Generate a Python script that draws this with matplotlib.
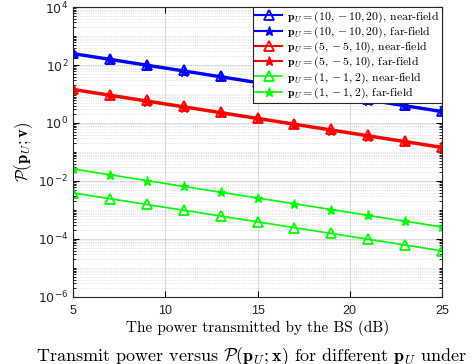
import numpy as np
import matplotlib
matplotlib.use("Agg")
import matplotlib.pyplot as plt
from matplotlib.ticker import LogLocator, FixedLocator, NullFormatter, FuncFormatter

plt.rcParams['mathtext.fontset'] = 'cm'

# Data
power_db = [5, 7, 9, 11, 13, 15, 17, 19, 21, 23, 25]
blue_near = [260, 165, 104, 65.6, 41.4, 26.1, 16.5, 10.4, 6.56, 4.14, 2.61]
blue_far = [235, 148, 93.8, 59.2, 37.3, 23.5, 14.8, 9.38, 5.92, 3.73, 2.35]
red_near = [15.2, 9.6, 6.05, 3.82, 2.41, 1.52, 0.96, 0.605, 0.382, 0.241, 0.152]
red_far = [13.6, 8.58, 5.41, 3.41, 2.15, 1.36, 0.858, 0.541, 0.341, 0.215, 0.136]
green_near = [3.9e-3, 2.46e-3, 1.55e-3, 9.8e-4, 6.2e-4, 3.9e-4, 2.46e-4, 1.55e-4, 9.8e-5, 6.2e-5, 3.9e-5]
green_far = [2.6e-2, 1.64e-2, 1.04e-2, 6.5e-3, 4.1e-3, 2.6e-3, 1.64e-3, 1.04e-3, 6.5e-4, 4.1e-4, 2.6e-4]

labels = [r'$\mathbf{p}_U=(10,-10,20)$, near-field',
          r'$\mathbf{p}_U=(10,-10,20)$, far-field',
          r'$\mathbf{p}_U=(5,-5,10)$, near-field',
          r'$\mathbf{p}_U=(5,-5,10)$, far-field',
          r'$\mathbf{p}_U=(1,-1,2)$, near-field',
          r'$\mathbf{p}_U=(1,-1,2)$, far-field']
x_ticks = [5, 10, 15, 20, 25]
y_ticks = [1e-6, 1e-4, 1e-2, 1e0, 1e2, 1e4]

fig = plt.figure(figsize=(4.74, 3.64), dpi=100)
ax = fig.add_axes([73/474, 1-297/364, (442-73)/474, (297-7)/364])

series = [(blue_near, '#0000ff', '^', 1.5), (blue_far, '#0000ff', '*', 1.5),
          (red_near, '#ff0000', '^', 1.5), (red_far, '#ff0000', '*', 1.5),
          (green_near, '#00ff00', '^', 1.2), (green_far, '#00ff00', '*', 1.2)]
for (vals, col, mk, lw), lab in zip(series, labels):
    if mk == '^':
        ax.plot(power_db, vals, color=col, lw=lw, marker='^', markersize=6.5,
                markerfacecolor='none', markeredgewidth=1.3, label=lab)
    else:
        ax.plot(power_db, vals, color=col, lw=lw, marker='*', markersize=6.5,
                markerfacecolor=col, markeredgewidth=1.0, label=lab)

ax.set_yscale('log')
ax.set_xlim(5, 25)
ax.set_ylim(1e-6, 1e4)
ax.xaxis.set_major_locator(FixedLocator(x_ticks))
ax.yaxis.set_major_locator(FixedLocator(y_ticks))
ax.yaxis.set_minor_locator(LogLocator(base=10, subs=np.arange(1, 10), numticks=50))
ax.yaxis.set_minor_formatter(NullFormatter())
ax.yaxis.set_major_formatter(FuncFormatter(lambda v, p: r'$10^{%d}$' % int(round(np.log10(v)))))

ax.grid(True, which='major', color='#d9d9d9', lw=0.7, ls='-')
ax.grid(True, which='minor', axis='y', color='#d9d9d9', lw=0.6, ls=':')
ax.set_axisbelow(True)
ax.tick_params(which='both', direction='in', top=True, right=True, labelsize=9)
ax.tick_params(which='major', length=4)
ax.tick_params(which='minor', length=2)
for sp in ax.spines.values():
    sp.set_linewidth(0.8)
    sp.set_color('#262626')

fig.canvas.draw()
for t in ax.get_xticklabels() + ax.get_yticklabels():
    t.set_fontfamily('Liberation Sans')
    t.set_math_fontfamily('dejavusans')
    t.set_color('#262626')
ax.tick_params(axis='x', pad=6)

ax.set_xlabel('The power transmitted by the BS (dB)', fontfamily='cmr10', fontsize=11, labelpad=2)
ax.set_ylabel(r'$\mathcal{P}(\mathbf{p}_U;\mathbf{v})$', fontsize=12, labelpad=2)

leg = ax.legend(loc='upper right', prop={'family': 'cmr10', 'size': 8.5},
                fancybox=False, edgecolor='#262626', framealpha=1,
                borderaxespad=0.0, handlelength=2.3, labelspacing=0.0,
                borderpad=0.2, handletextpad=0.4)
leg.get_frame().set_linewidth(0.8)

fig.text(36/474, -0.012, r'Transmit power versus $\mathcal{P}(\mathbf{p}_U;\mathbf{x})$ for different $\mathbf{p}_U$ under',
         fontfamily='cmr10', fontsize=13, ha='left', va='bottom')

fig.savefig('out.png', dpi=100)
